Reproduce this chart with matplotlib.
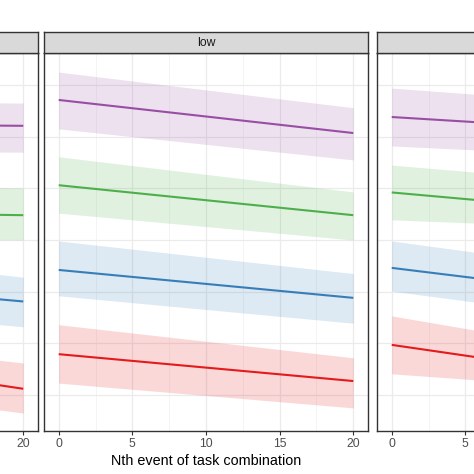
import matplotlib
matplotlib.use("Agg")
import matplotlib.pyplot as plt

plt.rcParams['font.family'] = ['Liberation Sans', 'DejaVu Sans']

# ---------------- data ----------------
x_ends = [0, 20]
facets = ["high", "low", "medium"]
series = ["level 4", "level 3", "level 2", "level 1"]
colors = ["#984EA3", "#4DAF4A", "#377EB8", "#E41A1C"]

# fitted value at x = 0 and x = 20, per series
high_fit = [[5.25, 5.21], [3.56, 3.48], [2.32, 1.81], [0.97, 0.12]]
high_lo = [[4.72, 4.70], [3.06, 3.00], [1.84, 1.32], [0.39, -0.35]]
high_hi = [[5.69, 5.65], [4.05, 4.01], [2.90, 2.28], [1.26, 0.62]]

low_fit = [[5.71, 5.07], [4.06, 3.48], [2.42, 1.88], [0.79, 0.27]]
low_lo = [[5.15, 4.55], [3.52, 3.00], [1.92, 1.39], [0.23, -0.25]]
low_hi = [[6.25, 5.56], [4.61, 3.93], [2.98, 2.35], [1.36, 0.72]]

medium_fit = [[5.38, 5.03], [3.92, 3.41], [2.46, 1.76], [0.97, 0.14]]
medium_lo = [[4.82, 4.55], [3.39, 3.17], [2.01, 1.26], [0.41, 0.00]]
medium_hi = [[5.94, 5.52], [4.45, 3.97], [2.98, 2.21], [1.53, 0.56]]

x_ticks = [0, 5, 10, 15, 20]
x_minor = [2.5, 7.5, 12.5, 17.5]
y_grid = [0, 1, 2, 3, 4, 5, 6]
x_label = "Nth event of task combination"

panel_data = [
    (high_fit, high_lo, high_hi),
    (low_fit, low_lo, low_hi),
    (medium_fit, medium_lo, medium_hi),
]

# ---------------- layout ----------------
W = H = 474
fig = plt.figure(figsize=(4.74, 4.74), dpi=100)

panel_lefts = [-286, 44, 377]
panel_w = 324
panel_top, panel_bot = 53, 431
strip_top = 32

grey20 = "#333333"
xmin, xmax = -1, 21

for i, (left, (fit, lo, hi)) in enumerate(zip(panel_lefts, panel_data)):
    ax = fig.add_axes([left / W, 1 - panel_bot / H, panel_w / W, (panel_bot - panel_top) / H])
    ax.set_xlim(xmin, xmax)
    ax.set_ylim(-0.697, 6.619)
    for xv in x_minor:
        ax.axvline(xv, color="#F2F2F2", lw=0.6, zorder=0)
    for xv in x_ticks:
        ax.axvline(xv, color="#EBEBEB", lw=0.9, zorder=0)
    for yv in y_grid:
        ax.axhline(yv, color="#EBEBEB", lw=0.9, zorder=0)
    for s in range(len(series)):
        ax.fill_between(x_ends, lo[s], hi[s], color=colors[s], alpha=0.17, lw=0, zorder=1)
        ax.plot(x_ends, fit[s], color=colors[s], lw=1.5, zorder=2, solid_capstyle="butt")
    # only label ticks whose position falls inside the figure
    labels = []
    for t in x_ticks:
        px = left + (t - xmin) / (xmax - xmin) * panel_w
        labels.append(str(t) if 8 <= px <= W - 8 else "")
    ax.set_xticks(x_ticks)
    ax.set_xticklabels(labels)
    ax.set_yticks([])
    ax.tick_params(axis="x", length=3, width=0.8, color=grey20, labelsize=8.8,
                   labelcolor="#4D4D4D", pad=2)
    for sp in ax.spines.values():
        sp.set_color(grey20)
        sp.set_linewidth(1.0)
    if i == 1:
        ax.set_xlabel(x_label, fontsize=10.4, color="black", labelpad=3)

    sax = fig.add_axes([left / W, 1 - panel_top / H, panel_w / W, (panel_top - strip_top) / H])
    sax.set_facecolor("#D9D9D9")
    sax.set_xticks([])
    sax.set_yticks([])
    for sp in sax.spines.values():
        sp.set_color(grey20)
        sp.set_linewidth(1.0)
    centre_px = left + panel_w / 2
    if 0 <= centre_px <= W:
        sax.text(0.5, 0.5, facets[i], ha="center", va="center", fontsize=8.8,
                 color="#1A1A1A", transform=sax.transAxes)

fig.savefig("out.png", dpi=100)
